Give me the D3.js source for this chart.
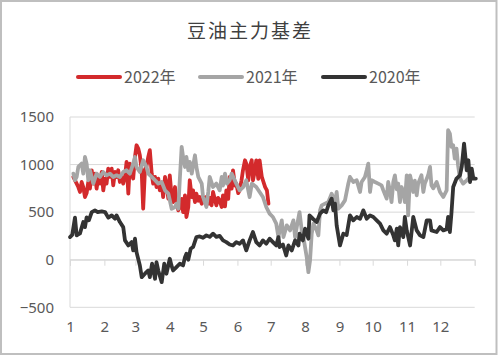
<!DOCTYPE html>
<html><head><meta charset="utf-8">
<script src="https://cdn.jsdelivr.net/npm/d3@7"></script>
<style>body{margin:0;background:#fff}svg{display:block}</style>
</head><body><svg id="c" width="498" height="356"></svg>
<script>
const title = "豆油主力基差";
const seriesNames = ["2022年", "2021年", "2020年"];
const seriesColors = ["#d32a2c", "#a5a5a5", "#333333"];
const monthLabels = ["1","2","3","4","5","6","7","8","9","10","11","12"];
const monthStartDays = [0,31,59,90,120,151,181,212,243,273,304,334,365];
const yTicks = [-500, 0, 500, 1000, 1500];

// [day of year, basis]
const s2022 = [[3,870],[6,800],[7.5,764],[9,712],[10.5,817],[12,760],[13.5,659],[15,700],[16.5,817],[18,747],[19.6,940],[21,800],[22.5,905],[24,747],[25.5,870],[27,800],[28.6,922],[30,729],[31.6,853],[33,800],[34.5,958],[36,870],[37.6,958],[39,782],[40.6,922],[42,870],[43.5,940],[45,817],[46.6,870],[48,800],[49.6,870],[51,1028],[52.6,694],[54,1010],[55.6,905],[57,853],[58.6,1080],[60,1203],[61.6,1168],[63,1098],[64.6,940],[66,536],[67.6,940],[69,980],[70.6,1080],[72,1151],[73.7,905],[75,800],[76.7,870],[78,764],[79.6,853],[81,729],[82.7,810],[84,659],[85.7,870],[87,800],[88.7,642],[90,887],[91.7,659],[93,606],[94.7,764],[96,624],[97.7,519],[99,554],[100.7,640],[102,501],[103.7,677],[105,449],[106.7,554],[108,835],[109.8,659],[111,729],[112.7,606],[114,694],[115.7,620],[117,659],[118.8,589],[121,650],[123,659],[124.7,589],[126,650],[127.7,571],[129,712],[132,571],[133.5,650],[135,624],[136.8,554],[138,677],[139.8,560],[141,729],[142.7,640],[144,870],[145.8,747],[147,940],[148.8,780],[150,800],[151.7,700],[153,729],[154.7,835],[156,940],[157.8,1045],[159,1010],[160.8,835],[162,975],[163.9,1045],[165,835],[166.8,940],[168,1045],[169.8,850],[171,1045],[173,870],[174.5,817],[176,764],[177.6,729],[179,589]];

const s2021 = [[3,905],[4.5,835],[6,870],[7.5,975],[10.5,1010],[12,905],[13.5,1080],[15,1010],[16.5,835],[18,940],[21,800],[24,905],[27,870],[30,922],[33,887],[36,905],[39,870],[42,887],[45,870],[48,922],[51,940],[54,905],[57,1010],[58.6,1080],[60,975],[63,922],[66,1045],[69,975],[70.6,905],[73.7,870],[76.7,835],[79.6,800],[82.7,817],[85.7,729],[88.7,694],[91.7,536],[94.7,554],[96,589],[97.7,536],[99,835],[100.7,1186],[102,1080],[103.7,975],[105,1080],[106.7,940],[108,1028],[109.8,905],[112.7,1098],[114,975],[115.7,870],[118.8,800],[120,659],[123,554],[124.7,712],[126,870],[129,764],[132,800],[135,729],[136.8,870],[138,780],[139.8,905],[141.6,800],[144,835],[145.8,905],[150,800],[153,729],[156,760],[159,835],[162,659],[164,800],[168,764],[171,712],[174,659],[177,554],[180,484],[183,449],[186,379],[188,238],[189,300],[191,414],[192.5,238],[195.5,361],[198.5,308],[201.5,414],[203,238],[204.5,343],[207,501],[209,308],[210.5,238],[212,133],[213.5,27],[215,-131],[216.5,-7],[218,274],[219.5,379],[222.5,308],[224,256],[225.5,519],[227,571],[230,589],[233,606],[236,694],[239,606],[240.5,712],[242,536],[245,571],[248,624],[251,800],[252.5,870],[255.5,817],[258.6,835],[261.6,712],[263,817],[266,870],[267.6,940],[269,1010],[270.6,712],[272,835],[275,817],[278,800],[281,782],[282.6,729],[285.6,642],[287,817],[288.6,720],[290,606],[291.6,817],[293,887],[294.7,740],[296,800],[297.6,606],[299,764],[300.6,720],[302,606],[303.7,887],[305,466],[306.7,887],[308,820],[309.6,712],[311,830],[312.7,677],[314,800],[317,887],[318.7,712],[320,800],[323,887],[324.7,975],[326,782],[327.6,750],[330.7,817],[333.7,712],[336.7,659],[339.7,729],[341,1361],[342.6,1326],[344,1186],[345.6,1203],[347,1063],[348.6,1168],[350,993],[351.7,853],[354.6,800],[357.8,835],[360.8,870],[361.7,853]];

const s2020 = [[0,238],[2,260],[4.5,442],[6,256],[9,277],[12,396],[13.5,343],[15,445],[17,414],[19.6,501],[22.5,519],[25,501],[28.6,508],[31.6,501],[34.5,442],[37.6,466],[40.6,431],[42,466],[45,396],[48,343],[49.6,203],[52.6,150],[55.6,185],[57,98],[58.6,221],[60,80],[63,-60],[64.7,-183],[67.6,-147],[70.6,-113],[72,-183],[74,-42],[76.7,-200],[78,-25],[79.6,-113],[82.7,-236],[85,-42],[87,-147],[90,10],[91.5,-60],[93,-113],[96,-78],[99,-42],[102,-60],[103.7,27],[105,63],[106.7,0],[108.8,115],[111,133],[114,238],[117,245],[120,230],[123,256],[126,240],[129,274],[132,240],[135,250],[138,203],[141,185],[144,160],[147,150],[150,185],[153,168],[156,203],[159,98],[162,203],[165,291],[168,185],[171,150],[174,203],[177,168],[180,221],[183,185],[186,150],[188,238],[189,133],[192,160],[195,45],[197,150],[200,98],[203,203],[206,150],[207,274],[210,203],[212,326],[215,221],[216,466],[219,431],[222.5,396],[225.5,484],[228.5,519],[231,500],[233,571],[236,642],[237.5,519],[239,589],[240.5,361],[243.5,150],[246.5,274],[249.5,260],[252.5,466],[255.5,414],[258.6,449],[261.6,430],[264.5,519],[267.6,431],[270.6,466],[273.6,449],[276.6,414],[279.6,379],[282.6,308],[285.6,274],[288.6,343],[291.6,256],[293,203],[294.7,326],[296,150],[297.6,343],[300.6,238],[302,449],[303.7,308],[306.7,150],[309.6,449],[312.7,308],[315.7,256],[318.7,238],[321.7,414],[324.7,414],[326,308],[330.7,291],[333.7,343],[336.7,308],[339.7,320],[341,449],[342.6,291],[344,484],[345.6,764],[348.6,853],[351.7,887],[353.3,975],[355.4,1221],[357.8,940],[359.3,1045],[360.8,817],[362.3,958],[363.8,853],[366,853]];

const allSeries = [s2022, s2021, s2020];

const svg = d3.select("#c");
const L = 70, R = 474.7, T = 117, B = 307.3;
const x = d3.scaleLinear().domain([0, 365]).range([L, R]);
const y = d3.scaleLinear().domain([-500, 1500]).range([B, T]);
const grid = "#d9d9d9", txt = "#595959";

svg.append("rect").attr("x",1).attr("y",1).attr("width",495.5).attr("height",353)
  .attr("fill","#fff").attr("stroke","#bfbfbf").attr("stroke-width",2);

// gridlines
svg.append("g").selectAll("line").data(yTicks).join("line")
  .attr("x1", L).attr("x2", R).attr("y1", d => y(d)).attr("y2", d => y(d))
  .attr("stroke", grid).attr("stroke-width", 1);
svg.append("line").attr("x1", L).attr("x2", L).attr("y1", T).attr("y2", B)
  .attr("stroke", grid).attr("stroke-width", 1);

// y labels
const yAxis = d3.axisLeft(y).tickValues(yTicks).tickSize(0).tickPadding(0).tickFormat(d3.format("d"));
const gy = svg.append("g").attr("transform", `translate(${L-16},0)`).call(yAxis);
gy.select(".domain").remove();
gy.selectAll("text").attr("fill", txt).style("font-family","Noto Sans, sans-serif").style("font-size","15px");

// x ticks at zero line
const xTickAxis = d3.axisBottom(x).tickValues(monthStartDays).tickSize(6).tickFormat("");
const gxt = svg.append("g").attr("transform", `translate(0,${y(0)})`).call(xTickAxis);
gxt.select(".domain").attr("stroke", grid);
gxt.selectAll("line").attr("stroke", grid);

// x labels at bottom
const xLab = d3.axisBottom(x).tickValues(monthStartDays.slice(0,12)).tickSize(0).tickPadding(0)
  .tickFormat((d,i) => monthLabels[i]);
const gxl = svg.append("g").attr("transform", `translate(0,${B+14})`).call(xLab);
gxl.select(".domain").remove();
gxl.selectAll("text").attr("fill", txt).style("font-family","Noto Sans, sans-serif").style("font-size","15px");

// lines
const line = d3.line().x(d => x(d[0])).y(d => y(d[1]));
allSeries.forEach((s, i) => {
  svg.append("path").datum(s).attr("d", line).attr("fill","none")
    .attr("stroke", seriesColors[i]).attr("stroke-width", 3.8)
    .attr("stroke-linejoin","round").attr("stroke-linecap","round");
});

// title
svg.append("text").attr("x", 250).attr("y", 38).attr("text-anchor","middle")
  .attr("fill","#404040").style("font-family","Noto Sans CJK SC, sans-serif")
  .style("font-size","19px").style("letter-spacing","2px").text(title);

// legend
const legX = [78, 200, 323];
seriesNames.forEach((n, i) => {
  const g = svg.append("g").attr("transform", `translate(${legX[i]},77)`);
  g.append("line").attr("x1", 0).attr("x2", 42).attr("y1", 0).attr("y2", 0)
    .attr("stroke", seriesColors[i]).attr("stroke-width", 4).attr("stroke-linecap","round");
  g.append("text").attr("x", 46).attr("y", 6).attr("fill", txt)
    .style("font-family","Noto Sans CJK SC, sans-serif").style("font-size","16px").text(n);
});
</script></body></html>
